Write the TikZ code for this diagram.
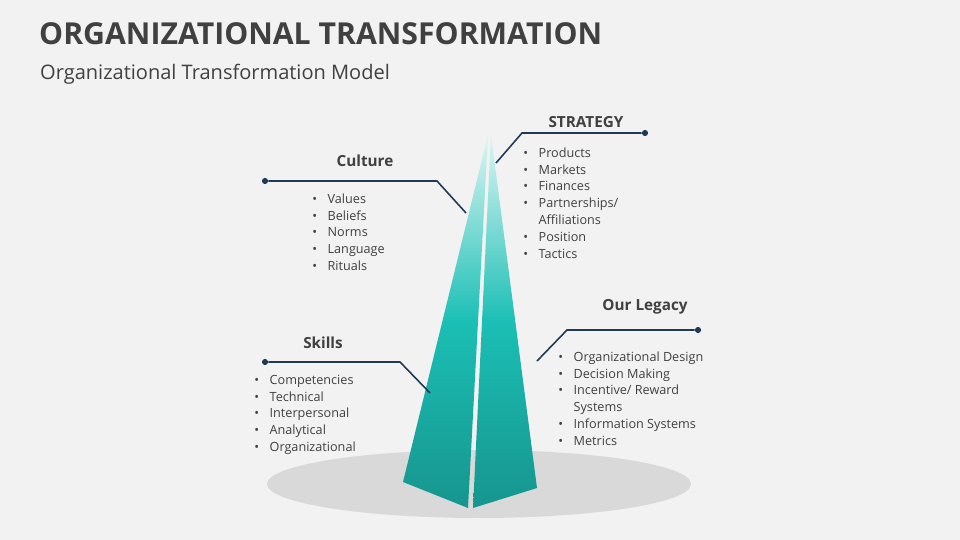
\documentclass[tikz,border=0pt]{standalone}
\usepackage{fontspec}
\setmainfont{Open Sans}
\usetikzlibrary{positioning}
\definecolor{bgc}{HTML}{F2F2F2}
\definecolor{navy}{HTML}{1F3A56}
\definecolor{txt}{HTML}{404040}
\definecolor{tealtop}{HTML}{DDF5F4}
\definecolor{tealmid}{HTML}{1BBFB5}
\definecolor{tealbot}{HTML}{16958E}
\newcommand{\bitems}[1]{\begin{tabular}{@{}l@{\hspace{6pt}}l@{}}#1\end{tabular}}
\begin{document}
\begin{tikzpicture}[x=0.02cm,y=-0.02cm,
        font=\fontsize{7.2}{9.6}\selectfont,
        text=txt
    ]
    \tikzset{
        heading/.style = {font=\fontsize{8.7}{10}\selectfont\bfseries, text=txt},
        itemlist/.style = {anchor=north west, inner sep=0pt},
        leader/.style = {draw=navy, line width=0.9pt},
        enddot/.style = {circle, fill=navy, inner sep=0pt, minimum size=3.5pt},
    }
    \fill[bgc] (0,0) rectangle (960,540);
    \node[anchor=west, font=\fontsize{17.2}{20}\selectfont\bfseries] (title) at (33,34) {ORGANIZATIONAL TRANSFORMATION};
    \node[anchor=west, font=\fontsize{11.4}{14}\selectfont] (subtitle) at (34,74) {Organizational Transformation Model};
    % base shadow
    \fill[black!15] (479,484) ellipse [x radius=212, y radius=34];
    % pyramid faces
    \shade[top color=tealtop, bottom color=tealbot, middle color=tealmid]
        (488,135) -- (403,482) -- (468,508) -- cycle;
    \shade[top color=tealtop, bottom color=tealbot, middle color=tealmid]
        (491,135) -- (473,508) -- (537,488) -- cycle;
    % leaders
    \node[enddot] (cdot) at (265,181) {};
    \coordinate (cbend) at (437,181);
    \coordinate (cend) at (466,213);
    \draw[leader] (cdot) -- (cbend) -- (cend);
    \node[enddot] (sdot) at (645,133) {};
    \coordinate (sbend) at (522,133);
    \coordinate (send) at (496,163);
    \draw[leader] (sdot) -- (sbend) -- (send);
    \node[enddot] (kdot) at (265,362) {};
    \coordinate (kbend) at (400,362);
    \coordinate (kend) at (430,393);
    \draw[leader] (kdot) -- (kbend) -- (kend);
    \node[enddot] (ldot) at (698,330) {};
    \coordinate (lbend) at (567,330);
    \coordinate (lend) at (537,361);
    \draw[leader] (ldot) -- (lbend) -- (lend);
    % headings and lists
    \node[heading] (culture) at (365,161) {Culture};
    \node[itemlist] (culturelist) at (312,191) {\bitems{%
        • & Values\\ • & Beliefs\\ • & Norms\\ • & Language\\ • & Rituals}};
    \node[heading] (strategy) at (586,122) {STRATEGY};
    \node[itemlist] (strategylist) at (523,145) {\bitems{%
        • & Products\\ • & Markets\\ • & Finances\\ • & Partnerships/\\ & Affiliations\\ • & Position\\ • & Tactics}};
    \node[heading] (skills) at (323,343) {Skills};
    \node[itemlist] (skillslist) at (254,372) {\bitems{%
        • & Competencies\\ • & Technical\\ • & Interpersonal\\ • & Analytical\\ • & Organizational}};
    \node[heading] (legacy) at (645,307) {Our Legacy};
    \node[itemlist] (legacylist) at (558,349) {\bitems{%
        • & Organizational Design\\ • & Decision Making\\ • & Incentive/ Reward\\ & Systems\\ • & Information Systems\\ • & Metrics}};
\end{tikzpicture}
\end{document}
